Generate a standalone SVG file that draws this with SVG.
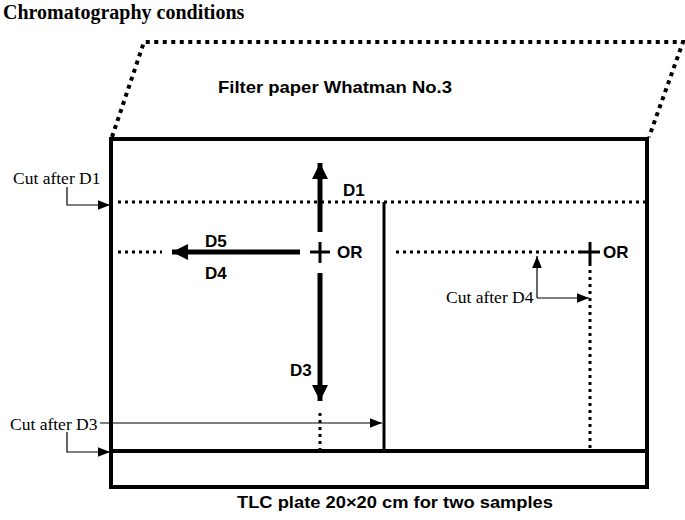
<svg xmlns="http://www.w3.org/2000/svg" width="685" height="520" viewBox="0 0 685 520">
<defs>
<style>
.t{font-family:"Liberation Serif",serif;font-size:17.5px;fill:#000}
.b{font-family:"Liberation Sans",Arial,sans-serif;font-weight:bold;font-size:17px;fill:#000}
.dot{stroke:#000;stroke-width:3;stroke-dasharray:3 4;fill:none}
.thick{stroke:#000;stroke-width:4;fill:none}
.ar{stroke:#000;stroke-width:5;fill:none}
.thin{stroke:#000;stroke-width:1.2;fill:none}
.cross{stroke:#000;stroke-width:3}
</style>
<marker id="big" viewBox="0 0 10 10" refX="10" refY="5" markerWidth="3.2" markerHeight="3.2" orient="auto" markerUnits="strokeWidth"><path d="M0,0 L10,5 L0,10 z" fill="#000"/></marker>
<marker id="sm" viewBox="0 0 10 10" refX="10" refY="5" markerWidth="12" markerHeight="12" orient="auto" markerUnits="userSpaceOnUse"><path d="M0,1 L10,5 L0,9 z" fill="#000"/></marker>
</defs>
<text x="3" y="19" style="font-family:'Liberation Serif',serif;font-weight:bold;font-size:20px">Chromatography conditions</text>
<g id="filter-paper">
<path d="M112,137 L144,42 L683,42 L649,137" stroke="#000" stroke-width="4" stroke-dasharray="4 4.5" fill="none"/>
<text class="b" x="218" y="93" font-size="19.5" textLength="234" lengthAdjust="spacingAndGlyphs">Filter paper Whatman No.3</text>
</g>
<g id="tlc-plate">
<rect class="thick" x="111" y="139" width="536" height="348"/>
<line class="thick" x1="111" y1="451" x2="647" y2="451"/>
<line x1="384" y1="202" x2="384" y2="451" stroke="#000" stroke-width="3"/>
<text class="b" x="237" y="508" font-size="20.5" textLength="316" lengthAdjust="spacingAndGlyphs">TLC plate 20×20 cm for two samples</text>
</g>
<g id="cut-lines">
<line class="dot" x1="118" y1="202" x2="645" y2="202"/>
<line class="dot" x1="118" y1="252" x2="162" y2="252"/>
<line class="dot" x1="320" y1="413" x2="320" y2="450"/>
<line class="dot" x1="396" y1="252" x2="582" y2="252"/>
<line class="dot" x1="590" y1="263" x2="590" y2="448"/>
</g>
<g id="origin-left">
<line class="cross" x1="310" y1="252" x2="330" y2="252"/>
<line class="cross" x1="320" y1="242" x2="320" y2="263"/>
<text class="b" x="337" y="258">OR</text>
</g>
<g id="origin-right">
<line class="cross" x1="580" y1="252" x2="600" y2="252"/>
<line class="cross" x1="590" y1="242" x2="590" y2="263"/>
<text class="b" x="603" y="258">OR</text>
</g>
<g id="labels">
<text class="b" x="343" y="196">D1</text>
<text class="b" x="205" y="247">D5</text>
<text class="b" x="205" y="279">D4</text>
<text class="b" x="290" y="376">D3</text>
<text class="t" x="13" y="184">Cut after D1</text>
<text class="t" x="10" y="430">Cut after D3</text>
<text class="t" x="446" y="303">Cut after D4</text>
</g>
<g id="connectors">
<line class="ar" x1="320" y1="232" x2="320" y2="163" marker-end="url(#big)"/>
<line class="ar" x1="300" y1="252" x2="172" y2="252" marker-end="url(#big)"/>
<line class="ar" x1="320" y1="273" x2="320" y2="401" marker-end="url(#big)"/>
<path class="thin" d="M67,187 L67,205 L110,205" marker-end="url(#sm)"/>
<path class="thin" d="M100,423 L382,423" marker-end="url(#sm)"/>
<path class="thin" d="M67,432 L67,452 L110,452" marker-end="url(#sm)"/>
<path class="thin" d="M537,298 L537,256" marker-end="url(#sm)"/>
<path class="thin" d="M537,298 L589,298" marker-end="url(#sm)"/>
</g>
</svg>
